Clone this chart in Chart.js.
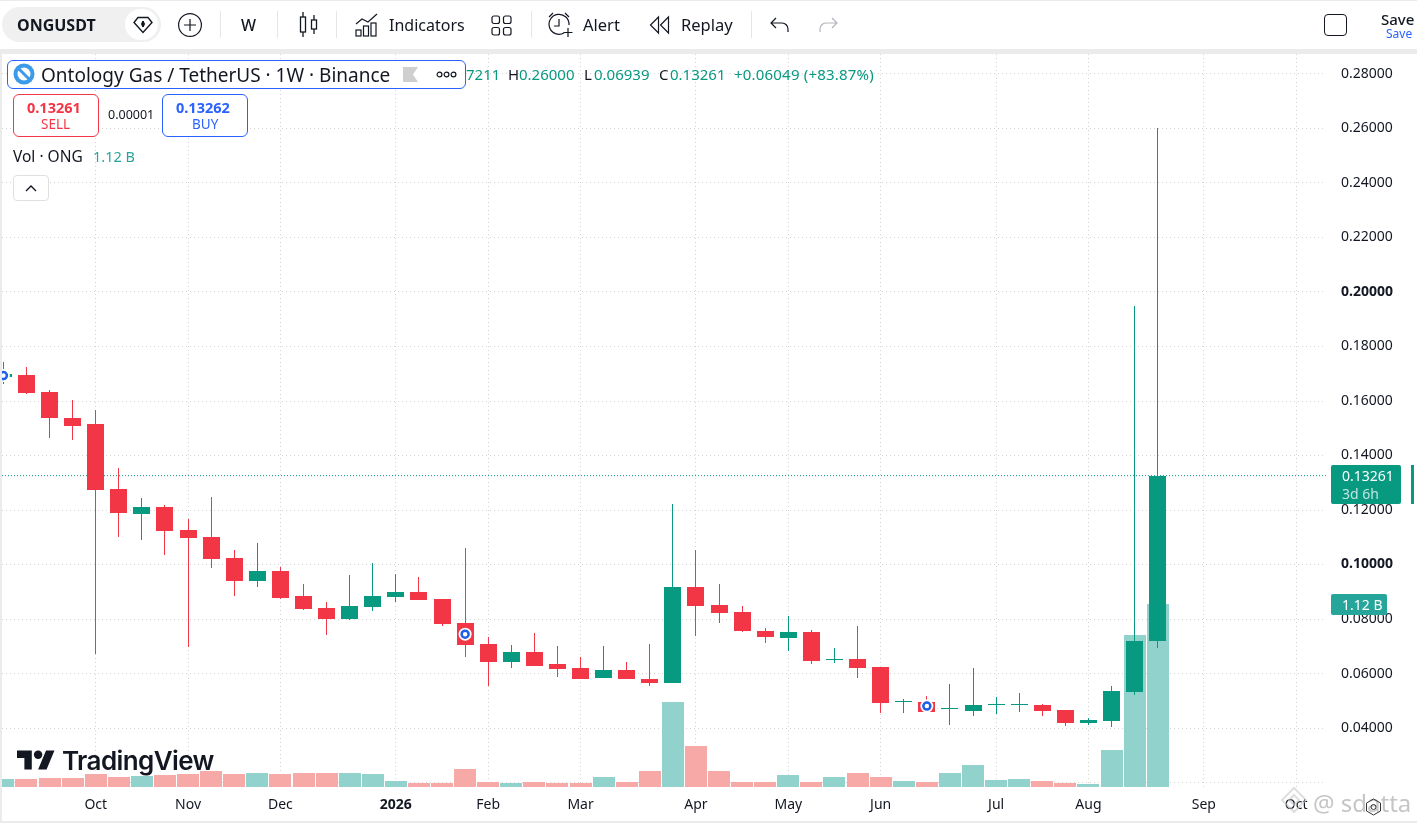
<!DOCTYPE html>
<html>
<head>
<meta charset="utf-8">
<title>ONGUSDT</title>
<script src="https://cdn.jsdelivr.net/npm/chart.js@4"></script>
<style>
  html, body { margin: 0; padding: 0; background: #fff; overflow: hidden; }
  body { width: 1417px; height: 825px; position: relative; font-family: "Noto Sans", sans-serif; color: #131722; }
  canvas { position: absolute; left: 0; top: 0; }
  .t { position: absolute; white-space: nowrap; line-height: 20px; height: 20px; }
  .g { color: #089981; }
  .box { position: absolute; box-sizing: border-box; background: #fff; }
  .sep { position: absolute; top: 11px; height: 27px; width: 1px; background: #e6e6e6; }
  .band { position: absolute; background: #ebebeb; }
  svg { position: absolute; overflow: visible; }
</style>
</head>
<body>
<canvas id="chart" width="1417" height="825"></canvas>

<!-- page frame -->
<div class="band" style="left:0;top:0;width:1417px;height:1px"></div>
<div class="band" style="left:0;top:49px;width:1417px;height:5px"></div>
<div class="band" style="left:0;top:49px;width:2px;height:772px"></div>
<div class="band" style="left:0;top:821px;width:1417px;height:2px"></div>

<!-- toolbar -->
<div class="box" style="left:2px;top:7px;width:159px;height:35px;border-radius:18px;background:#f0f0f0"></div>
<div class="t" style="left:17px;top:15px;font-size:16px;font-weight:700">ONGUSDT</div>
<div class="box" style="left:125px;top:9px;width:33px;height:31px;border-radius:16px"></div>
<svg style="left:133px;top:16px" width="20" height="18" viewBox="0 0 20 18" fill="none" stroke="#131722" stroke-width="1.4"><path d="M5 1.5h10l4 5-9 10-9-10z"/><path d="M10 5v6" stroke-width="2"/><circle cx="10" cy="8" r="2" fill="#131722" stroke="none"/></svg>
<svg style="left:178px;top:13px" width="24" height="24" viewBox="0 0 24 24" fill="none" stroke="#131722" stroke-width="1.2"><circle cx="12" cy="12" r="11.4"/><path d="M12 6v12M6 12h12"/></svg>
<div class="sep" style="left:220px"></div>
<div class="t" style="left:241px;top:15px;font-size:16px;font-weight:500">W</div>
<div class="sep" style="left:277px"></div>
<svg style="left:299px;top:12px" width="19" height="25" viewBox="0 0 19 25" fill="none" stroke="#131722" stroke-width="1.3"><rect x="1.5" y="5" width="5" height="15"/><path d="M4 0v5M4 20v5"/><rect x="12.5" y="8" width="5" height="9"/><path d="M15 3v5M15 17v5"/></svg>
<div class="sep" style="left:336px"></div>
<svg style="left:355px;top:13px" width="23" height="24" viewBox="0 0 23 24" fill="none" stroke="#131722" stroke-width="1.2"><path d="M1 11l6-5 6 3 9-8"/><rect x="1" y="17" width="5" height="6"/><rect x="8.500" y="13" width="5" height="10"/><rect x="16" y="10" width="5" height="13"/></svg>
<div class="t" style="left:389px;top:15px;font-size:16px">Indicators</div>
<svg style="left:491px;top:15px" width="21" height="21" viewBox="0 0 21 21" fill="none" stroke="#131722" stroke-width="1.2"><rect x="1" y="1" width="7.500" height="7.500" rx="2"/><rect x="12.500" y="1" width="7.500" height="7.500" rx="2"/><rect x="1" y="12.500" width="7.500" height="7.500" rx="2"/><rect x="12.500" y="12.500" width="7.500" height="7.500" rx="2"/></svg>
<div class="sep" style="left:531px"></div>
<svg style="left:548px;top:12px" width="25" height="26" viewBox="0 0 25 26" fill="none" stroke="#131722" stroke-width="1.2"><path d="M16 21a10 10 0 1 1 5-8"/><path d="M11 7v7H6M1 5l4-4M21 5l-4-4M20 16v9M15.500 20.500h9"/></svg>
<div class="t" style="left:583px;top:15px;font-size:16.500px">Alert</div>
<svg style="left:649px;top:16px" width="21" height="18" viewBox="0 0 21 18" fill="none" stroke="#131722" stroke-width="1.2"><path d="M9.500 1l-8 8 8 8zM19.500 1l-8 8 8 8z"/></svg>
<div class="t" style="left:681px;top:15px;font-size:16.500px">Replay</div>
<div class="sep" style="left:751px"></div>
<svg style="left:770px;top:17px" width="20" height="16" viewBox="0 0 20 16" fill="none" stroke="#131722" stroke-width="1.2"><path d="M6 1L1 6l5 5M1 6h11a6 6 0 0 1 6 6v3"/></svg>
<svg style="left:818px;top:17px" width="20" height="16" viewBox="0 0 20 16" fill="none" stroke="#b2b5be" stroke-width="1.2"><path d="M14 1l5 5-5 5M19 6H8a6 6 0 0 0-6 6v3"/></svg>
<div class="box" style="left:1324px;top:14px;width:23px;height:22px;border:1.3px solid #131722;border-radius:4px"></div>
<div class="t" style="left:1381px;top:9px;font-size:15px;font-weight:500">Save</div>
<div class="t" style="left:1386px;top:24px;font-size:12px;color:#2962ff">Save</div>

<!-- ohlc legend -->
<div class="t g" style="left:466px;top:64px;font-size:15px">7211</div>
<div class="t" style="left:508px;top:64px;font-size:15px">H</div>
<div class="t g" style="left:519px;top:64px;font-size:15px">0.26000</div>
<div class="t" style="left:584px;top:64px;font-size:15px">L</div>
<div class="t g" style="left:594px;top:64px;font-size:15px">0.06939</div>
<div class="t" style="left:659px;top:64px;font-size:15px">C</div>
<div class="t g" style="left:670px;top:64px;font-size:15px">0.13261</div>
<div class="t g" style="left:734px;top:64px;font-size:15px;letter-spacing:.2px">+0.06049 (+83.87%)</div>

<!-- symbol title -->
<div class="box" style="left:7px;top:60px;width:459px;height:29px;border:1px solid #2962ff;border-radius:6px"></div>
<svg style="left:13px;top:63px" width="22" height="22" viewBox="0 0 22 22"><circle cx="11" cy="11" r="10.500" fill="#3c9be8"/><circle cx="11" cy="11" r="6.500" fill="#fff"/><path d="M5.500 5.500l11 11" stroke="#3c9be8" stroke-width="3"/></svg>
<div class="t" style="left:41px;top:65px;font-size:19px">Ontology Gas / TetherUS · 1W · Binance</div>
<svg style="left:403px;top:67px" width="16" height="15" viewBox="0 0 16 15"><path d="M0 0h15l-5 7.500 5 7.500H0z" fill="#cfcfcf"/></svg>
<svg style="left:436px;top:71px" width="21" height="7" viewBox="0 0 21 7" fill="none" stroke="#131722" stroke-width="1.2"><circle cx="3.500" cy="3.500" r="2.400"/><circle cx="10.500" cy="3.500" r="2.400"/><circle cx="17.500" cy="3.500" r="2.400"/></svg>

<!-- sell / buy -->
<div class="box" style="left:13px;top:94px;width:86px;height:43px;border:1px solid #f23645;border-radius:6px"></div>
<div class="t" style="left:27px;top:97px;font-size:14.500px;font-weight:700;color:#f23645">0.13261</div>
<div class="t" style="left:41px;top:114px;font-size:13.500px;color:#f23645">SELL</div>
<div class="t" style="left:108px;top:105px;font-size:12.500px">0.00001</div>
<div class="box" style="left:162px;top:94px;width:86px;height:43px;border:1px solid #2962ff;border-radius:6px"></div>
<div class="t" style="left:176px;top:97px;font-size:14.500px;font-weight:700;color:#2962ff">0.13262</div>
<div class="t" style="left:192px;top:114px;font-size:13.500px;color:#2962ff">BUY</div>

<!-- volume legend -->
<div class="t" style="left:13px;top:146px;font-size:15.500px">Vol · ONG</div>
<div class="t" style="left:93px;top:146px;font-size:14.500px;color:#26a69a">1.12 B</div>
<div class="box" style="left:13px;top:175px;width:36px;height:26px;border:1px solid #e0e0e0;border-radius:4px"></div>
<svg style="left:25px;top:184px" width="12" height="8" viewBox="0 0 12 8" fill="none" stroke="#131722" stroke-width="1.4"><path d="M1 7l5-5 5 5"/></svg>

<!-- price badges -->
<div class="box" style="left:1331px;top:465px;width:70px;height:39px;background:#089981;border-radius:2px"></div>
<div class="t" style="left:1342px;top:466px;font-size:14px;color:#fff">0.13261</div>
<div class="t" style="left:1342px;top:484px;font-size:14px;color:#bfe6df">3d 6h</div>
<div class="box" style="left:1411px;top:465px;width:3px;height:39px;background:#089981"></div>
<div class="box" style="left:1331px;top:594px;width:56px;height:21px;background:#26a69a;border-radius:2px"></div>
<div class="t" style="left:1342px;top:595px;font-size:14px;color:#fff">1.12 B</div>

<!-- logo -->
<svg style="left:17px;top:750px" width="38" height="20" viewBox="0 4 36 18" fill="#131722"><path d="M14 22H7V11H0V4h14v18zM28 22h-8l7.500-18h8L28 22z"/><circle cx="20" cy="8" r="4"/></svg>
<div class="t" style="left:62px;top:750px;font-size:26px;line-height:22px;height:22px;font-family:Inter,sans-serif;font-weight:600;letter-spacing:-.6px">TradingView</div>

<!-- watermark -->
<svg style="left:1281px;top:787px" width="26" height="36" viewBox="0 0 26 36" fill="none" stroke="#c8c8c8" stroke-width="2" opacity=".6"><path d="M13 1l12 12-12 12L1 13zM13 8l5 5-5 5-5-5z"/></svg>
<div class="t" style="left:1313px;top:791px;font-size:24px;line-height:24px;height:24px;color:rgba(150,150,150,.55)">@ sdatta</div>
<svg style="left:1365px;top:798px" width="17" height="18" viewBox="0 0 17 18" fill="none" stroke="#333" stroke-width="1"><path d="M8.500 1l7 4v8l-7 4-7-4V5z"/><circle cx="8.500" cy="9" r="2.500"/></svg>

<script>
// weekly candles, index -1 is the partly hidden one at the left edge
const firstWeek = -1;
const opens = [
  0.16871, 0.16970, 0.16347, 0.15394, 0.15138, 0.12756, 0.11840, 0.12096, 0.11254, 0.10997,
  0.10228, 0.09385, 0.09751, 0.08835, 0.08395, 0.07992, 0.08432, 0.08799, 0.08982, 0.08725,
  0.07846, 0.07076, 0.06417, 0.06783, 0.06343, 0.06197, 0.05830, 0.06124, 0.05794, 0.05647,
  0.09164, 0.08505, 0.08249, 0.07553, 0.07296, 0.07516, 0.06510, 0.06527, 0.06234, 0.04940,
  0.04951, 0.04685, 0.04621, 0.04830, 0.04830, 0.04841, 0.04658, 0.04181, 0.04255, 0.05317,
  0.07211
];
const highs = [
  0.17447, 0.17263, 0.16420, 0.16054, 0.15688, 0.13526, 0.12426, 0.12170, 0.11657, 0.12463,
  0.10521, 0.10777, 0.09898, 0.09275, 0.08615, 0.09605, 0.10044, 0.09641, 0.09531, 0.08725,
  0.10594, 0.07333, 0.07040, 0.07479, 0.07003, 0.06600, 0.07003, 0.06417, 0.07076, 0.12206,
  0.10521, 0.09275, 0.08469, 0.07663, 0.08102, 0.07589, 0.06930, 0.07736, 0.06234, 0.05061,
  0.05171, 0.05611, 0.06197, 0.05134, 0.05281, 0.04878, 0.04658, 0.04365, 0.05537, 0.19500,
  0.26000
];
const lows = [
  0.16640, 0.16274, 0.14625, 0.14552, 0.06710, 0.10997, 0.10887, 0.10338, 0.06966, 0.09861,
  0.08835, 0.09164, 0.08725, 0.08322, 0.07406, 0.07956, 0.08285, 0.08615, 0.08689, 0.07736,
  0.06600, 0.05537, 0.06197, 0.06270, 0.05867, 0.05794, 0.05830, 0.05794, 0.05537, 0.05647,
  0.07369, 0.07846, 0.07516, 0.07113, 0.06820, 0.06343, 0.06380, 0.05830, 0.04547, 0.04547,
  0.04584, 0.04108, 0.04438, 0.04511, 0.04584, 0.04438, 0.04071, 0.04108, 0.04035, 0.05207,
  0.06939
];
const closes = [
  0.17007, 0.16311, 0.15358, 0.15101, 0.12719, 0.11877, 0.12096, 0.11217, 0.10960, 0.10191,
  0.09385, 0.09751, 0.08762, 0.08359, 0.07992, 0.08469, 0.08835, 0.08982, 0.08689, 0.07809,
  0.07040, 0.06417, 0.06783, 0.06270, 0.06160, 0.05794, 0.06124, 0.05794, 0.05647, 0.09164,
  0.08469, 0.08212, 0.07553, 0.07333, 0.07516, 0.06453, 0.06540, 0.06197, 0.04914, 0.04965,
  0.04584, 0.04710, 0.04841, 0.04855, 0.04855, 0.04621, 0.04181, 0.04291, 0.05354, 0.07211,
  0.13261
];
// volume in billions
const volumes = [
  0.049, 0.049, 0.055, 0.055, 0.080, 0.061, 0.067, 0.073, 0.080, 0.098,
  0.080, 0.086, 0.080, 0.086, 0.086, 0.086, 0.080, 0.037, 0.024, 0.024,
  0.110, 0.031, 0.024, 0.031, 0.024, 0.024, 0.061, 0.031, 0.098, 0.520,
  0.251, 0.098, 0.031, 0.031, 0.073, 0.031, 0.061, 0.086, 0.061, 0.037,
  0.031, 0.086, 0.135, 0.043, 0.049, 0.037, 0.024, 0.018, 0.226, 0.930,
  1.120
];

const priceTicks = [0.02, 0.04, 0.06, 0.08, 0.10, 0.12, 0.14, 0.16, 0.18, 0.20, 0.22, 0.24, 0.26, 0.28];
const boldPrices = [0.10, 0.20];
const monthTicks = [3, 7, 11, 16, 20, 24, 29, 33, 37, 42, 46, 51, 55];
const monthLabels = ['Oct', 'Nov', 'Dec', '2026', 'Feb', 'Mar', 'Apr', 'May', 'Jun', 'Jul', 'Aug', 'Sep', 'Oct'];

const markerWeeks = [-1, 19, 39];
const markerPrices = [0.16933, 0.07443, 0.04804];

const UP = '#089981';
const DOWN = '#F23645';
const UP_VOL = '#92D2CC';
const DOWN_VOL = '#F7A9A7';
const lastClose = closes[closes.length - 1];

const weeks = opens.map((_, i) => firstWeek + i);
const isUp = opens.map((o, i) => closes[i] >= o);
const candleColors = isUp.map(u => u ? UP : DOWN);
const volColors = isUp.map(u => u ? UP_VOL : DOWN_VOL);

// x axis range / y axis ranges, picked so the plot lines up with the screenshot
const xMin = -1.06, xMax = 56.29;
const yMin = 0.01836, yMax = 0.28733;
const volMax = 4.492;

// bars land on whole pixels like the original chart, no blurry wicks
const crispBars = {
    id: 'crispBars',
    beforeDatasetDraw(chart, args) {
        if (args.meta.type !== 'bar') return;
        args.meta.data.forEach(bar => {
            const odd = Math.round(bar.width) % 2 === 1;
            bar.x = odd ? Math.floor(bar.x) + 0.5 : Math.round(bar.x);
            bar.y = Math.round(bar.y);
            bar.base = Math.round(bar.base);
            if (bar.y === bar.base) bar.y -= 1; // doji bodies stay a visible line
            bar.height = bar.base - bar.y;
        });
    }
};

const barDefaults = { type: 'bar', grouped: false, borderSkipped: false, borderWidth: 0, inflateAmount: 0, xAxisID: 'x' };
const markerPoints = markerWeeks.map((w, i) => ({ x: w, y: markerPrices[i] }));

new Chart(document.getElementById('chart'), {
    type: 'bar',
    plugins: [crispBars],
    data: {
        datasets: [
            {
                ...barDefaults, label: 'Vol', order: 6, yAxisID: 'vol', barThickness: 22,
                data: weeks.map((w, i) => ({ x: w, y: volumes[i] })),
                backgroundColor: volColors
            },
            {
                type: 'line', label: 'Last', order: 5, xAxisID: 'x', yAxisID: 'y',
                data: [{ x: xMin, y: lastClose }, { x: xMax, y: lastClose }],
                borderColor: UP, borderWidth: 1, borderDash: [1, 2], pointRadius: 0
            },
            {
                ...barDefaults, label: 'Wick', order: 4, yAxisID: 'y', barThickness: 1,
                data: weeks.map((w, i) => ({ x: w, y: [lows[i], highs[i]] })),
                backgroundColor: candleColors
            },
            {
                ...barDefaults, label: 'Body', order: 3, yAxisID: 'y', barThickness: 17,
                data: weeks.map((w, i) => ({ x: w, y: [opens[i], closes[i]] })),
                backgroundColor: candleColors
            },
            {
                type: 'line', label: 'Marker halo', order: 2, xAxisID: 'x', yAxisID: 'y', showLine: false,
                data: markerPoints, pointRadius: 6.5, pointBorderWidth: 0, pointBackgroundColor: '#fff'
            },
            {
                type: 'line', label: 'Markers', order: 1, xAxisID: 'x', yAxisID: 'y', showLine: false,
                data: markerPoints, pointRadius: 3.5, pointBorderWidth: 2.5, pointBorderColor: '#1f5ee8', pointBackgroundColor: '#fff'
            }
        ]
    },
    options: {
        responsive: false,
        animation: false,
        events: [],
        // autoPadding would push the plot right to make room for the markers
        layout: { autoPadding: false, padding: { left: 2, top: 54, right: 0, bottom: 0 } },
        plugins: { legend: { display: false }, tooltip: { enabled: false } },
        scales: {
            x: {
                type: 'linear', min: xMin, max: xMax, offset: false,
                afterBuildTicks: axis => { axis.ticks = monthTicks.map(v => ({ value: v })); },
                // chart.js keeps room for half of the first label otherwise
                afterFit: axis => { axis.height = 38; axis.paddingLeft = 0; axis.paddingRight = 0; },
                border: { display: false, dash: [1, 3] },
                grid: { color: '#d4d4d4', drawTicks: false, offset: false },
                ticks: {
                    autoSkip: false, maxRotation: 0, padding: 10, color: '#131722',
                    font: ctx => ({ family: '"Noto Sans"', size: 14, weight: ctx.tick && monthLabels[monthTicks.indexOf(ctx.tick.value)] === '2026' ? 'bold' : 'normal' }),
                    callback: v => monthLabels[monthTicks.indexOf(v)]
                }
            },
            y: {
                type: 'linear', position: 'right', min: yMin, max: yMax,
                afterBuildTicks: axis => { axis.ticks = priceTicks.map(v => ({ value: v })); },
                afterFit: axis => { axis.width = 91; },
                border: { display: false, dash: [1, 3] },
                grid: { color: '#d4d4d4', drawTicks: false },
                ticks: {
                    padding: 15, color: '#131722',
                    font: ctx => ({ family: '"Noto Sans"', size: 14, weight: ctx.tick && boldPrices.includes(ctx.tick.value) ? 'bold' : 'normal' }),
                    callback: v => v === priceTicks[0] ? '' : v.toFixed(5)
                }
            },
            vol: { type: 'linear', display: false, min: 0, max: volMax }
        }
    }
});
</script>
</body>
</html>
